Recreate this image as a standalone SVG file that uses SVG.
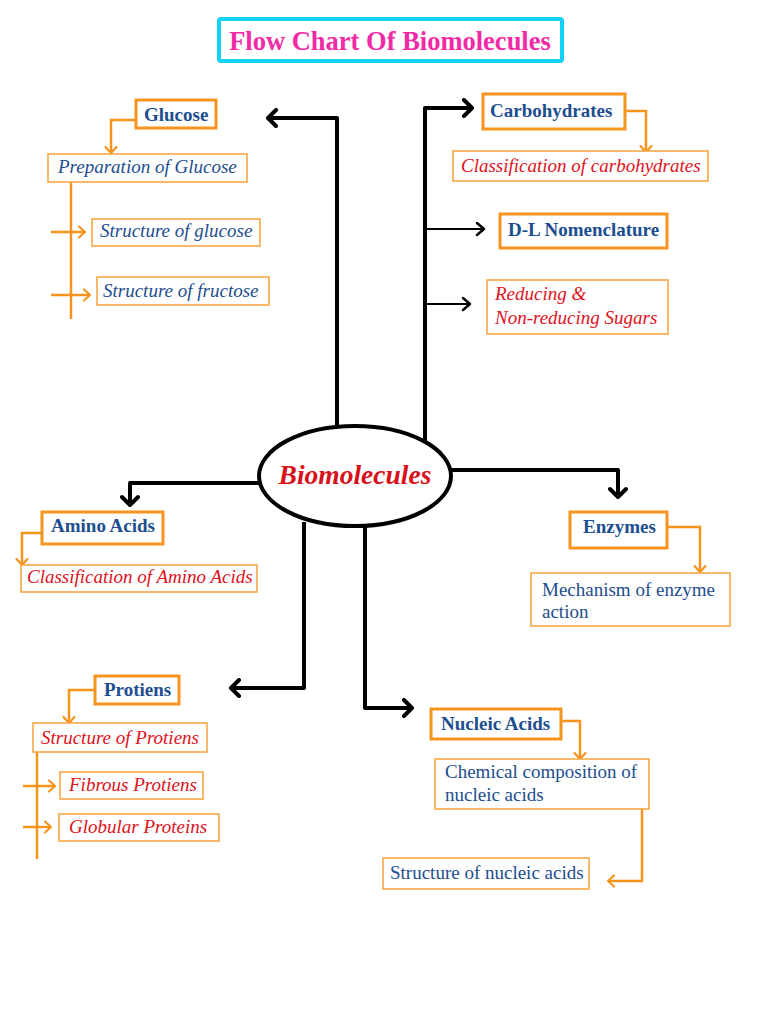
<svg xmlns="http://www.w3.org/2000/svg" width="768" height="1024" viewBox="0 0 768 1024">
<defs>
<marker id="bk" markerUnits="userSpaceOnUse" markerWidth="20" markerHeight="20" refX="12" refY="10" orient="auto" viewBox="0 0 20 20"><path d="M4,2 L12,10 L4,18" fill="none" stroke="#000" stroke-width="4" stroke-linecap="round" stroke-linejoin="round"/></marker>
<marker id="bkt" markerUnits="userSpaceOnUse" markerWidth="20" markerHeight="20" refX="12" refY="10" orient="auto" viewBox="0 0 20 20"><path d="M5,4 L12,10 L5,16" fill="none" stroke="#000" stroke-width="2.5" stroke-linecap="round" stroke-linejoin="round"/></marker>
<marker id="or" markerUnits="userSpaceOnUse" markerWidth="16" markerHeight="16" refX="9" refY="8" orient="auto" viewBox="0 0 16 16"><path d="M3,2.5 L9,8 L3,13.5" fill="none" stroke="#F7941D" stroke-width="2.2" stroke-linecap="round" stroke-linejoin="round"/></marker>
</defs>
<style>
.t{font-family:"Liberation Serif","Times New Roman",serif;font-size:19px}
.h{font-weight:bold;fill:#1D4E8F}
.i{font-style:italic}
.r{fill:#E0121C}
.b{fill:#1D4E8F}
.thick{fill:#fff;stroke:#F7941D;stroke-width:3}
.thin{fill:#fff;stroke:#F7A23A;stroke-width:1.5}
.blk{fill:none;stroke:#000;stroke-width:4;stroke-linejoin:round}
.blkt{fill:none;stroke:#000;stroke-width:2}
.oc{fill:none;stroke:#F7941D;stroke-width:2.5}
</style>
<rect width="768" height="1024" fill="#fff"/>

<g id="title">
<rect x="219" y="19" width="343" height="42" rx="2" fill="#fff" stroke="#14D2F5" stroke-width="4"/>
<text x="390" y="50" text-anchor="middle" style="font-family:'Liberation Serif','Times New Roman',serif;font-size:26.5px;font-weight:bold" fill="#F22AA6">Flow Chart Of Biomolecules</text>
</g>

<g id="connectors">
<path class="blk" d="M337,425 V118 H268" marker-end="url(#bk)"/>
<path class="blk" d="M425,442 V108 H472" marker-end="url(#bk)"/>
<path class="blkt" d="M425,229 H484" marker-end="url(#bkt)"/>
<path class="blkt" d="M425,304 H470" marker-end="url(#bkt)"/>
<path class="blk" d="M259,483 H130 V505" marker-end="url(#bk)"/>
<path class="blk" d="M451,470 H618 V497" marker-end="url(#bk)"/>
<path class="blk" d="M304,522 V688 H231" marker-end="url(#bk)"/>
<path class="blk" d="M365,526 V708 H412" marker-end="url(#bk)"/>
<path class="oc" d="M135,120 H111 V153" marker-end="url(#or)"/>
<path class="oc" d="M71,182 V319"/>
<path class="oc" d="M51,232 H85" marker-end="url(#or)"/>
<path class="oc" d="M51,295 H90" marker-end="url(#or)"/>
<path class="oc" d="M625,111 H646 V152" marker-end="url(#or)"/>
<path class="oc" d="M41,533 H22 V565" marker-end="url(#or)"/>
<path class="oc" d="M667,527 H700 V572" marker-end="url(#or)"/>
<path class="oc" d="M95,690 H69 V723" marker-end="url(#or)"/>
<path class="oc" d="M37,752 V859"/>
<path class="oc" d="M23,786 H55" marker-end="url(#or)"/>
<path class="oc" d="M23,827 H51" marker-end="url(#or)"/>
<path class="oc" d="M561,721 H580 V759" marker-end="url(#or)"/>
<path class="oc" d="M642,809 V881 H608" marker-end="url(#or)"/>
</g>

<g id="center">
<ellipse cx="355" cy="476" rx="96" ry="50" fill="#fff" stroke="#000" stroke-width="4"/>
<text x="355" y="484" text-anchor="middle" class="t" style="font-size:27.5px;font-weight:bold;font-style:italic" fill="#D9101A">Biomolecules</text>
</g>

<g id="glucose"><rect class="thick" x="136" y="100" width="80" height="28"/><text class="t h" x="144" y="121">Glucose</text></g>
<g id="prep-glucose"><rect class="thin" x="48" y="154" width="199" height="28"/><text class="t i b" x="58" y="173">Preparation of Glucose</text></g>
<g id="structure-glucose"><rect class="thin" x="92" y="219" width="168" height="27"/><text class="t i b" x="100" y="237">Structure of glucose</text></g>
<g id="structure-fructose"><rect class="thin" x="97" y="277" width="172" height="28"/><text class="t i b" x="103" y="297">Structure of fructose</text></g>

<g id="carbohydrates"><rect class="thick" x="483" y="94" width="142" height="35"/><text class="t h" x="490" y="117">Carbohydrates</text></g>
<g id="class-carb"><rect class="thin" x="453" y="151" width="255" height="30"/><text class="t i r" x="461" y="172">Classification of carbohydrates</text></g>
<g id="dl"><rect class="thick" x="500" y="214" width="167" height="34"/><text class="t h" x="508" y="236">D-L Nomenclature</text></g>
<g id="reducing"><rect class="thin" x="487" y="280" width="181" height="54"/><text class="t i r" x="495" y="300">Reducing &amp;</text><text class="t i r" x="495" y="324">Non-reducing Sugars</text></g>

<g id="amino"><rect class="thick" x="42" y="512" width="121" height="32"/><text class="t h" x="51" y="532">Amino Acids</text></g>
<g id="class-amino"><rect class="thin" x="21" y="565" width="236" height="27"/><text class="t i r" x="27" y="583">Classification of Amino Acids</text></g>

<g id="enzymes"><rect class="thick" x="570" y="512" width="97" height="36"/><text class="t h" x="583" y="533">Enzymes</text></g>
<g id="mechanism"><rect class="thin" x="531" y="573" width="199" height="53"/><text class="t b" x="542" y="596">Mechanism of enzyme</text><text class="t b" x="542" y="618">action</text></g>

<g id="protiens"><rect class="thick" x="95" y="676" width="84" height="28"/><text class="t h" x="104" y="696">Protiens</text></g>
<g id="structure-protiens"><rect class="thin" x="33" y="723" width="174" height="29"/><text class="t i r" x="41" y="744">Structure of Protiens</text></g>
<g id="fibrous"><rect class="thin" x="60" y="772" width="143" height="27"/><text class="t i r" x="69" y="791">Fibrous Protiens</text></g>
<g id="globular"><rect class="thin" x="59" y="814" width="160" height="27"/><text class="t i r" x="69" y="833">Globular Proteins</text></g>

<g id="nucleic"><rect class="thick" x="431" y="709" width="130" height="30"/><text class="t h" x="441" y="730">Nucleic Acids</text></g>
<g id="chemical"><rect class="thin" x="435" y="759" width="214" height="50"/><text class="t b" x="445" y="778">Chemical composition of</text><text class="t b" x="445" y="801">nucleic acids</text></g>
<g id="structure-nucleic"><rect class="thin" x="383" y="858" width="206" height="31"/><text class="t b" x="390" y="879">Structure of nucleic acids</text></g>
</svg>
